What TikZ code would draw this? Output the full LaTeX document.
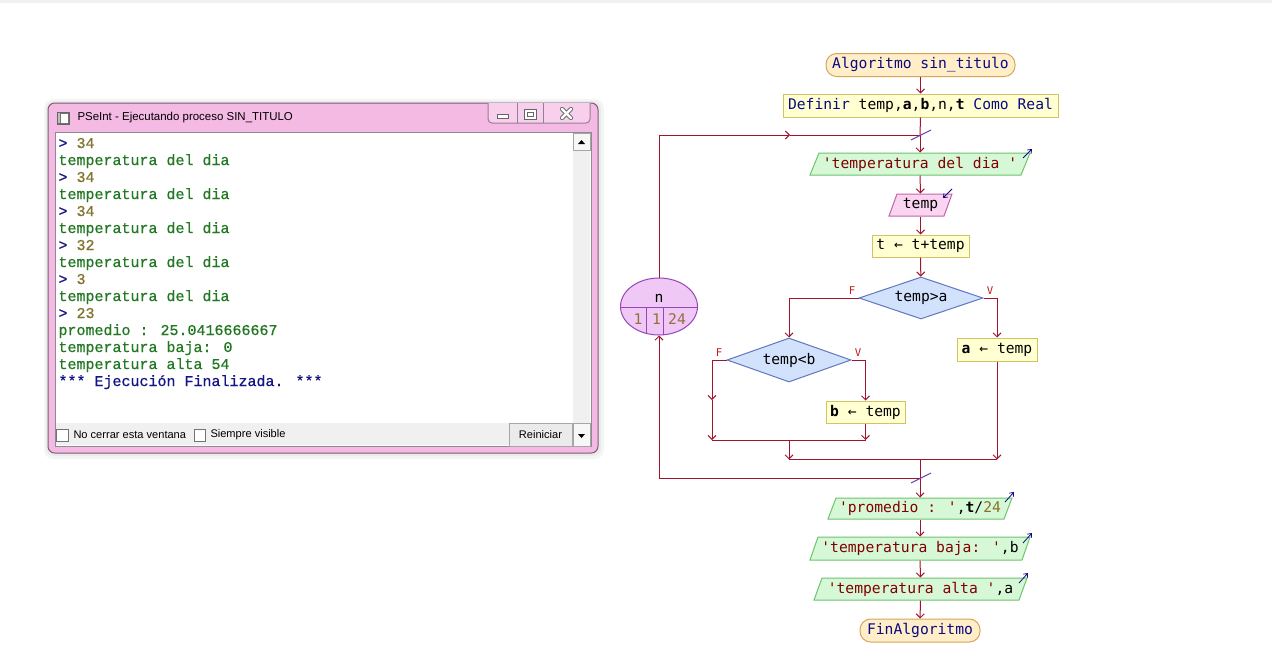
\documentclass[tikz,border=0pt]{standalone}
\usepackage{fontspec}
\setmainfont{Liberation Sans}
\newfontfamily\flowfont{DejaVu Sans Mono}
\newfontfamily\confont[FakeBold=0.8]{Liberation Mono}
\usetikzlibrary{arrows.meta,shapes.geometric}
\definecolor{lnk}{RGB}{160,20,45}
\definecolor{navy}{RGB}{10,10,130}
\definecolor{dred}{RGB}{128,0,0}
\definecolor{olive}{RGB}{140,110,40}
\definecolor{termF}{RGB}{255,238,200}
\definecolor{termB}{RGB}{215,165,90}
\definecolor{procF}{RGB}{255,255,210}
\definecolor{procB}{RGB}{210,195,100}
\definecolor{outF}{RGB}{215,248,215}
\definecolor{outB}{RGB}{110,195,110}
\definecolor{inF}{RGB}{250,212,240}
\definecolor{inB}{RGB}{195,100,170}
\definecolor{decF}{RGB}{210,225,252}
\definecolor{decB}{RGB}{95,120,190}
\definecolor{loopF}{RGB}{240,200,245}
\definecolor{loopB}{RGB}{150,70,185}
\definecolor{slashC}{RGB}{110,60,170}
\definecolor{numC}{RGB}{150,110,60}
\definecolor{lblC}{RGB}{190,30,30}
\definecolor{winpink}{RGB}{245,186,228}
\definecolor{winedge}{RGB}{120,95,115}
\definecolor{cgreen}{RGB}{35,120,35}
\definecolor{cnavy}{RGB}{20,20,130}
\definecolor{colive}{RGB}{130,115,45}
\definecolor{barC}{RGB}{240,240,240}
\begin{document}
\begin{tikzpicture}[x=0.75pt,y=-0.75pt,line width=0.75pt,
  sz/.style 2 args={minimum width=#1*0.75pt, minimum height=#2*0.75pt},
  flow/.style={font=\flowfont\fontsize{11}{13}\selectfont, inner sep=0pt},
  term/.style={flow, draw=termB, fill=termF, rounded corners=8pt},
  proc/.style={flow, draw=procB, fill=procF},
  iotext/.style={flow},
  outshape/.style={draw=outB, fill=outF},
  inshape/.style={draw=inB, fill=inF},
  dec/.style={flow, shape=diamond, shape aspect=3, draw=decB, fill=decF},
  loopst/.style={shape=ellipse, draw=loopB, fill=loopF, inner sep=0pt},
  conn/.style={draw=lnk},
  arr/.style={draw=lnk, -{Straight Barb[length=3pt,width=6pt]}},
  slash/.style={draw=slashC},
  cornerarr/.style={draw=navy, line width=0.6pt, -{Straight Barb[length=2.5pt,width=4pt]}},
  lbl/.style={font=\flowfont\fontsize{8}{9}\selectfont, text=lblC, inner sep=0pt},
  num/.style={font=\flowfont\fontsize{11}{13}\selectfont, text=numC, inner sep=0pt},
  con/.style={font=\confont\fontsize{11.25}{13}\selectfont, inner sep=0pt, anchor=base west},
  ui/.style={font=\fontsize{8.3}{10}\selectfont, inner sep=0pt, anchor=west},
  ]
\useasboundingbox (0,0) rectangle (1272,661);
\fill[white] (0,0) rectangle (1272,661);
\fill[barC] (0,0) rectangle (1272,3);

% ---------------- window ----------------
\fill[black!4, rounded corners=7] (44,99) rectangle (604,459);
\fill[black!8, rounded corners=6] (46,101) rectangle (601,456);
\filldraw[fill=winpink, draw=winedge, rounded corners=5] (48,103) rectangle (598,453);
\filldraw[fill=white, draw=black!45] (55,132) rectangle (591,446);
\fill[barC] (573,150) rectangle (590,423);
\filldraw[fill=black!3, draw=black!35] (573,133) rectangle (590,150);
\fill[black] (578,144) -- (585,144) -- (581.5,140) -- cycle;
\fill[barC] (56,423) rectangle (572,445);
\filldraw[fill=black!8, draw=black!35] (509,423) rectangle (572,446);
\node[ui, anchor=center] (reini) at (540.5,434.5) {Reiniciar};
\filldraw[fill=black!3, draw=black!35] (573,423) rectangle (590,446);
\fill[black] (578,434) -- (585,434) -- (581.5,438) -- cycle;
\filldraw[fill=white, draw=black!55] (56,429) rectangle (68,441);
\node[ui] (chk1) at (73,435) {No cerrar esta ventana};
\filldraw[fill=white, draw=black!55] (194,429) rectangle (205,441);
\node[ui] (chk2) at (210,435) {Siempre visible};
% title
\filldraw[fill=black!55, draw=black!60] (57,112) rectangle (69,124);
\fill[white] (61,114) rectangle (68,123);
\fill[black!25] (58,113) rectangle (60,123);
\node[ui, font=\fontsize{8.6}{11}\selectfont] (title) at (77,118) {PSeInt - Ejecutando proceso SIN\_TITULO};
% caption buttons
\filldraw[fill=winpink!70!white, draw=winedge!80, rounded corners=3] (488,103) -- (488,123) -- (590,123) -- (590,103);
\draw[winedge!80] (517,103) -- (517,123) (543,103) -- (543,123);
\filldraw[fill=white, draw=black!60] (497,114) rectangle (508,118);
\filldraw[fill=white, draw=black!60] (524,109) rectangle (536,119);
\draw[black!60] (527,112) rectangle (533,116);
\draw[line width=3.2, black!55, line cap=round] (562,109) -- (571,118) (571,109) -- (562,118);
\draw[line width=1.8, white, line cap=round] (562,109) -- (571,118) (571,109) -- (562,118);

% console text
\node[con] (l1) at (58,148) {\color{cnavy}> \color{colive}34};
\node[con] (l2) at (58,165) {\color{cgreen}temperatura del dia};
\node[con] (l3) at (58,182) {\color{cnavy}> \color{colive}34};
\node[con] (l4) at (58,199) {\color{cgreen}temperatura del dia};
\node[con] (l5) at (58,216) {\color{cnavy}> \color{colive}34};
\node[con] (l6) at (58,233) {\color{cgreen}temperatura del dia};
\node[con] (l7) at (58,250) {\color{cnavy}> \color{colive}32};
\node[con] (l8) at (58,267) {\color{cgreen}temperatura del dia};
\node[con] (l9) at (58,284) {\color{cnavy}> \color{colive}3};
\node[con] (l10) at (58,301) {\color{cgreen}temperatura del dia};
\node[con] (l11) at (58,318) {\color{cnavy}> \color{colive}23};
\node[con] (l12) at (58,335) {\color{cgreen}promedio : 25.0416666667};
\node[con] (l13) at (58,352) {\color{cgreen}temperatura baja: 0};
\node[con] (l14) at (58,369) {\color{cgreen}temperatura alta 54};
\node[con] (l15) at (58,386) {\color{cnavy}*** Ejecución Finalizada. ***};

% ---------------- flowchart ----------------
\node[term, sz={189}{23}] (start) at (920.5,65) {\color{navy}Algoritmo sin\_titulo};
\node[proc, sz={275}{23}] (def) at (920.5,105.5) {\color{navy}Definir \color{black}temp,\textbf{a},\textbf{b},n,\textbf{t} \color{navy}Como Real};

\filldraw[outshape] (810,175) -- (819,153) -- (1030,153) -- (1021,175) -- cycle;
\node[iotext, sz={211}{22}] (tdia) at (920,164) {\color{dred}'temperatura del dia '};
\filldraw[inshape] (889,216) -- (897,194) -- (952,194) -- (944,216) -- cycle;
\node[iotext, sz={55}{22}] (tin) at (920.5,205) {temp};
\node[proc, sz={97}{22}] (acc) at (920.5,246) {t ← t+temp};
\node[dec, sz={124}{42}] (d1) at (921,298) {temp>a};
\node[proc, sz={80}{23}] (aset) at (997,349.5) {\textbf{a} ← temp};
\node[dec, sz={124}{44}] (d2) at (789,360) {temp<b};
\node[proc, sz={79}{22}] (bset) at (865.5,412) {\textbf{b} ← temp};

\node[loopst, sz={77}{57}] (loopn) at (659,306.5) {};
\begin{scope}
  \clip (659,306.5) ellipse [x radius=38.5, y radius=28.5];
  \draw[loopB] (615,307) -- (705,307) (646,307) -- (646,340) (663,307) -- (663,340);
\end{scope}
\node[num, text=black] (nvar) at (659,298) {n};
\node[num] (n1) at (638,319) {1};
\node[num] (n2) at (656.5,319) {1};
\node[num] (n3) at (677,319) {24};

\filldraw[outshape] (828,519) -- (836,498) -- (1012,498) -- (1004,519) -- cycle;
\node[iotext, sz={176}{21}] (prom) at (920,508.5) {\color{dred}'promedio : '\color{black},\textbf{t}/\color{olive}24};
\filldraw[outshape] (810,560) -- (818,537) -- (1030,537) -- (1022,560) -- cycle;
\node[iotext, sz={212}{23}] (baja) at (920,548.5) {\color{dred}'temperatura baja: '\color{black},b};
\filldraw[outshape] (814,600) -- (822,578) -- (1027,578) -- (1019,600) -- cycle;
\node[iotext, sz={205}{22}] (alta) at (920.5,589) {\color{dred}'temperatura alta '\color{black},a};
\node[term, sz={120}{23}] (fin) at (920,630.5) {\color{navy}FinAlgoritmo};

% corner arrows
\draw[cornerarr] (1023,158) -- (1032,149);
\draw[cornerarr] (952,189) -- (943,198);
\draw[cornerarr] (1005,502) -- (1014,492);
\draw[cornerarr] (1023,543) -- (1032,533);
\draw[cornerarr] (1019,583) -- (1028,573);

% junction points
\coordinate (j1) at (920,135);
\coordinate (lm) at (790,135);
\coordinate (c1) at (712,400);
\coordinate (c2) at (712,440);
\coordinate (c3) at (865.5,440);
\coordinate (c4) at (789,440);
\coordinate (c5) at (789,459.5);
\coordinate (c6) at (997,459.5);
\coordinate (c7) at (920,459.5);
\coordinate (j2) at (920,478);

% connectors
\draw[arr] (start) -- (def);
\draw[conn] (def.south) -- (j1);
\draw[arr] (j1) -- (tdia.north);
\draw[arr] (tdia) -- (tin);
\draw[arr] (tin) -- (acc);
\draw[arr] (acc) -- (d1);
\draw[arr] (d1.west) -| (d2.north);
\draw[arr] (d1.east) -| (aset.north);
\draw[arr] (d2.west) -| (c1);
\draw[arr] (c1) -- (c2);
\draw[arr] (d2.east) -| (bset.north);
\draw[arr] (bset.south) -- (c3);
\draw[conn] (c2) -- (c3);
\draw[arr] (c4) -- (c5);
\draw[arr] (aset.south) -- (c6);
\draw[conn] (c5) -- (c6);
\draw[conn] (c7) -- (j2);
\draw[arr] (j2) -- (prom.north);
\draw[arr] (j2) -| (loopn.south);
\draw[arr] (loopn.north) |- (lm);
\draw[conn] (lm) -- (j1);
\draw[arr] (prom) -- (baja);
\draw[arr] (baja) -- (alta);
\draw[arr] (alta) -- (fin);
\draw[slash] ([shift={(-9,5)}]j1) -- ([shift={(11,-5)}]j1);
\draw[slash] ([shift={(-9,5)}]j2) -- ([shift={(11,-5)}]j2);

% branch labels
\node[lbl] (f1) at (852,291) {F};
\node[lbl] (v1) at (990,291) {V};
\node[lbl] (f2) at (719,353) {F};
\node[lbl] (v2) at (858,353) {V};
\end{tikzpicture}
\end{document}
